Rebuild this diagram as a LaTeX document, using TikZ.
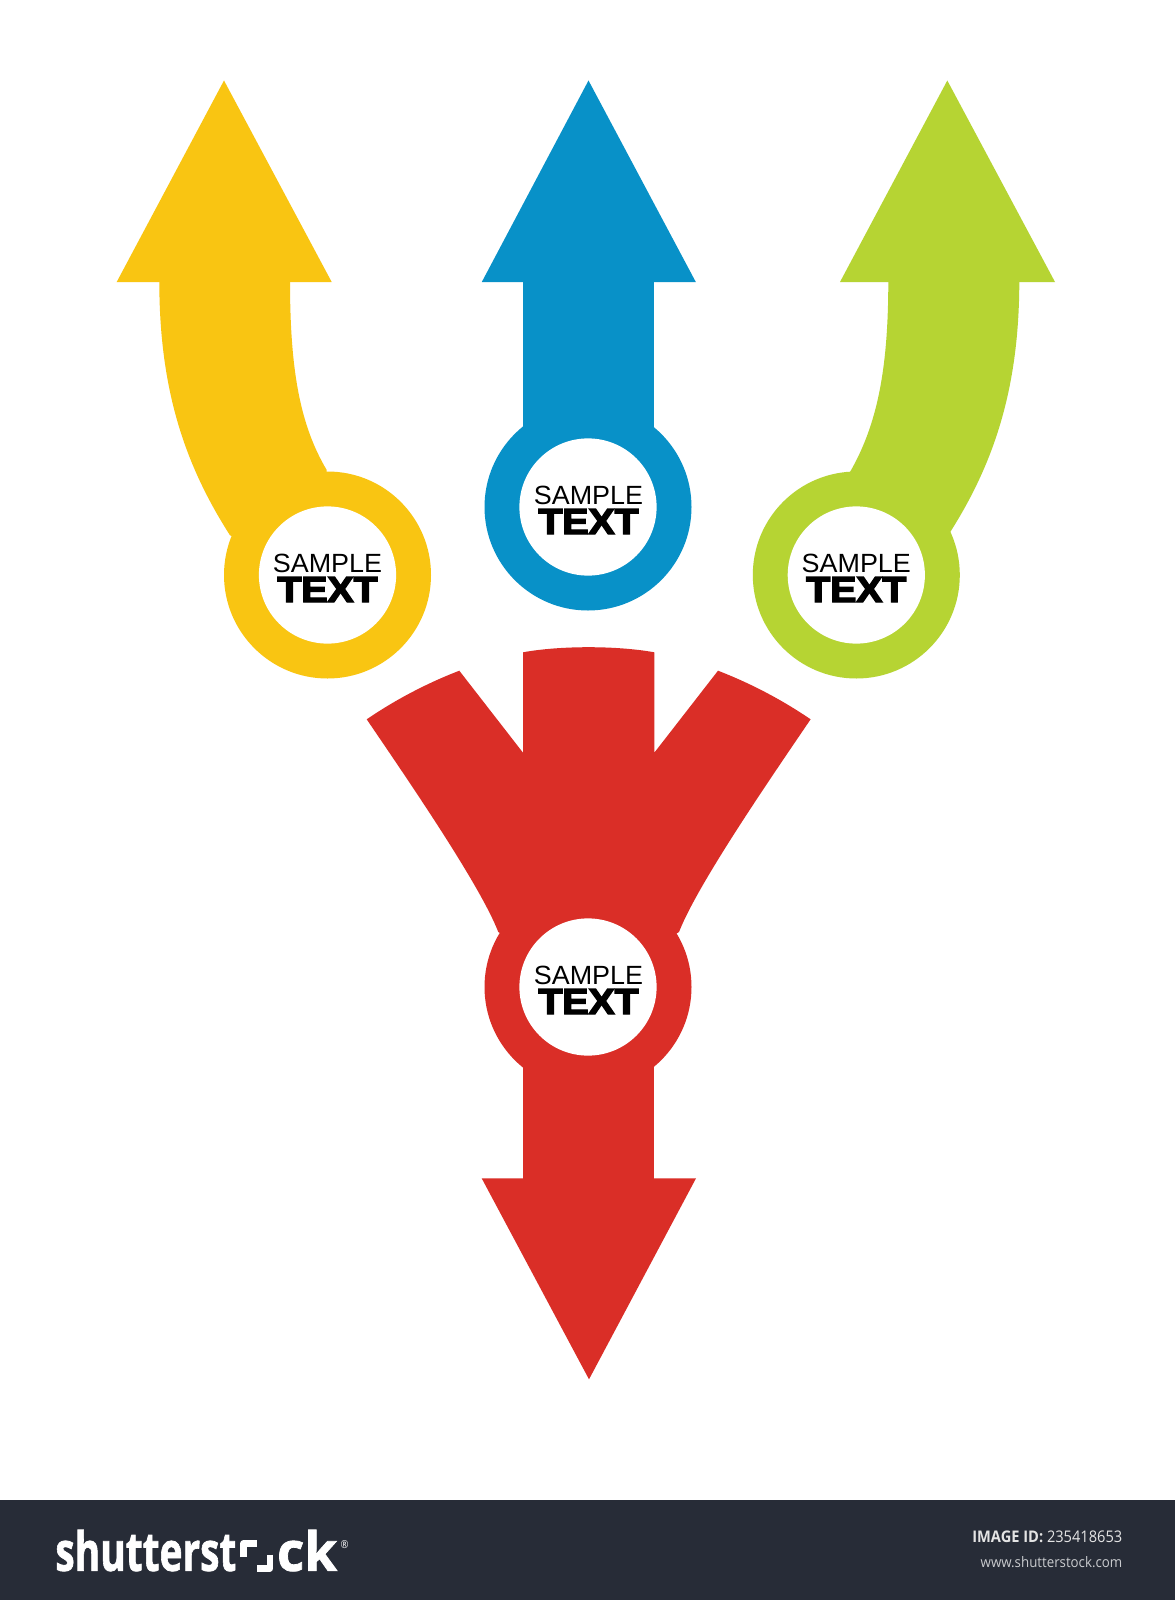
\documentclass[tikz,border=0pt]{standalone}
\usepackage{fontspec}
\usepackage{graphicx}
\setmainfont{Liberation Sans}
\newfontface\heavyfont{Liberation Sans Bold}[FakeBold=4]
\newfontfamily\logofont{Open Sans}[BoldFeatures={FakeBold=1.5}]
\newfontfamily\footfont{Open Sans}
\definecolor{cyellow}{HTML}{F9C512}
\definecolor{cblue}{HTML}{0891C8}
\definecolor{cgreen}{HTML}{B6D433}
\definecolor{cred}{HTML}{DA2E27}
\definecolor{cbar}{HTML}{272C37}
\definecolor{cfoot}{HTML}{E4E4E4}
\definecolor{cfootb}{HTML}{C9CBCE}
\tikzset{
  txt/.style={inner sep=0pt, outer sep=0pt, anchor=south},
  ringouter/.style={radius=103.5},
  ringinner/.style={radius=68.6},
}
\newcommand\ringat[2]{%
  \fill[#1] (#2) circle[ringouter];
  \fill[white] (#2) circle[ringinner];}
\newcommand\labelbox{\vbox{\offinterlineskip
  \hbox to 54.6pt{\hss\resizebox{54.6pt}{9.2pt}{SAMPLE}\hss}\kern2.1pt
  \hbox to 54.6pt{\hss\resizebox{50pt}{12.4pt}{\heavyfont TEXT}\hss}}}
\newcommand\samplelabel[3]{%
  \node[txt] (#1) at (#2,#3+27) {\labelbox};}
\begin{document}
\begin{tikzpicture}[x=0.5pt,y=-0.5pt]
\useasboundingbox (0,0) rectangle (1175,1600);
\fill[white] (0,0) rectangle (1175,1600);

% centres
\coordinate (cy) at (327.5,575);
\coordinate (cb) at (588,507);
\coordinate (cg) at (856.3,575);
\coordinate (cr) at (588,987);

% ---------- yellow arrow ----------
\fill[cyellow] (159.3,281) .. controls (159.3,390) and (185,465) .. (230,535.3)
  -- (cy) -- (326.7,470) .. controls (300,425) and (290,370) .. (290,281) -- cycle;
\fill[cyellow] (116.7,282) -- (331.7,282) -- (224,80.5) -- cycle;
\ringat{cyellow}{cy}
\samplelabel{ylabel}{327.5}{575}

% ---------- blue arrow ----------
\fill[cblue] (523,281) rectangle (654,507);
\fill[cblue] (481.8,282) -- (695.8,282) -- (588.5,80.5) -- cycle;
\ringat{cblue}{cb}
\samplelabel{blabel}{588.5}{507}

% ---------- green arrow ----------
\fill[cgreen] (1019.3,281) .. controls (1019.3,390) and (993,465) .. (949.3,533.5)
  -- (cg) -- (850,472) .. controls (877,425) and (888.3,370) .. (888.3,281) -- cycle;
\fill[cgreen] (840,282) -- (1055,282) -- (947.3,80.5) -- cycle;
\ringat{cgreen}{cg}
\samplelabel{glabel}{856.3}{575}

% ---------- red arrow ----------
\fill[cred] (523,652.3) .. controls (560,645.5) and (617,645.5) .. (654.3,652.3)
  -- (654.3,752.7) -- (718,670.7)
  .. controls (750.8,683.4) and (781.6,699.6) .. (810.6,719.3)
  .. controls (767.3,783) and (697.3,885) .. (679,932)
  -- (cr) -- (498.3,932)
  .. controls (480,885) and (410,783) .. (366.7,719.3)
  .. controls (395.7,699.6) and (426.5,683.4) .. (459.3,670.7)
  -- (523,752.7) -- cycle;
\fill[cred] (523,987) rectangle (654.3,1180);
\fill[cred] (481.7,1178.3) -- (696,1178.3) -- (589,1379.3) -- cycle;
\ringat{cred}{cr}
\samplelabel{rlabel}{588.5}{987}

% ---------- footer ----------
\fill[cbar] (0,1500) rectangle (1175,1600);
\node[inner sep=0pt, anchor=south west] (logoa) at (55,1571.7)
  {\resizebox{90.5pt}{20.5pt}{\logofont\bfseries\color{white}shutterst}};
\draw[white, line width=3.4pt, line cap=butt, line join=round]
  (243.5,1557) -- (243.5,1543.6) -- (257,1543.6)
  (270,1554.5) -- (270,1568.3) -- (256.5,1568.3);
\node[inner sep=0pt, anchor=south west] (logob) at (276.7,1571.7)
  {\resizebox{30pt}{20.5pt}{\logofont\bfseries\color{white}ck}};
\node[inner sep=0pt] (reg) at (344.5,1545)
  {\resizebox{4pt}{4pt}{\logofont\color{white}\textregistered}};
\node[inner sep=0pt, anchor=south east] (imgid) at (1122.7,1543.3)
  {\resizebox{75pt}{5.8pt}{\footfont\color{cfoot}\textbf{IMAGE ID:} 235418653}};
\node[inner sep=0pt, anchor=south east] (www) at (1122.7,1568.3)
  {\resizebox{70.8pt}{5.5pt}{\footfont\color{cfootb}www.shutterstock.com}};
\end{tikzpicture}
\end{document}
